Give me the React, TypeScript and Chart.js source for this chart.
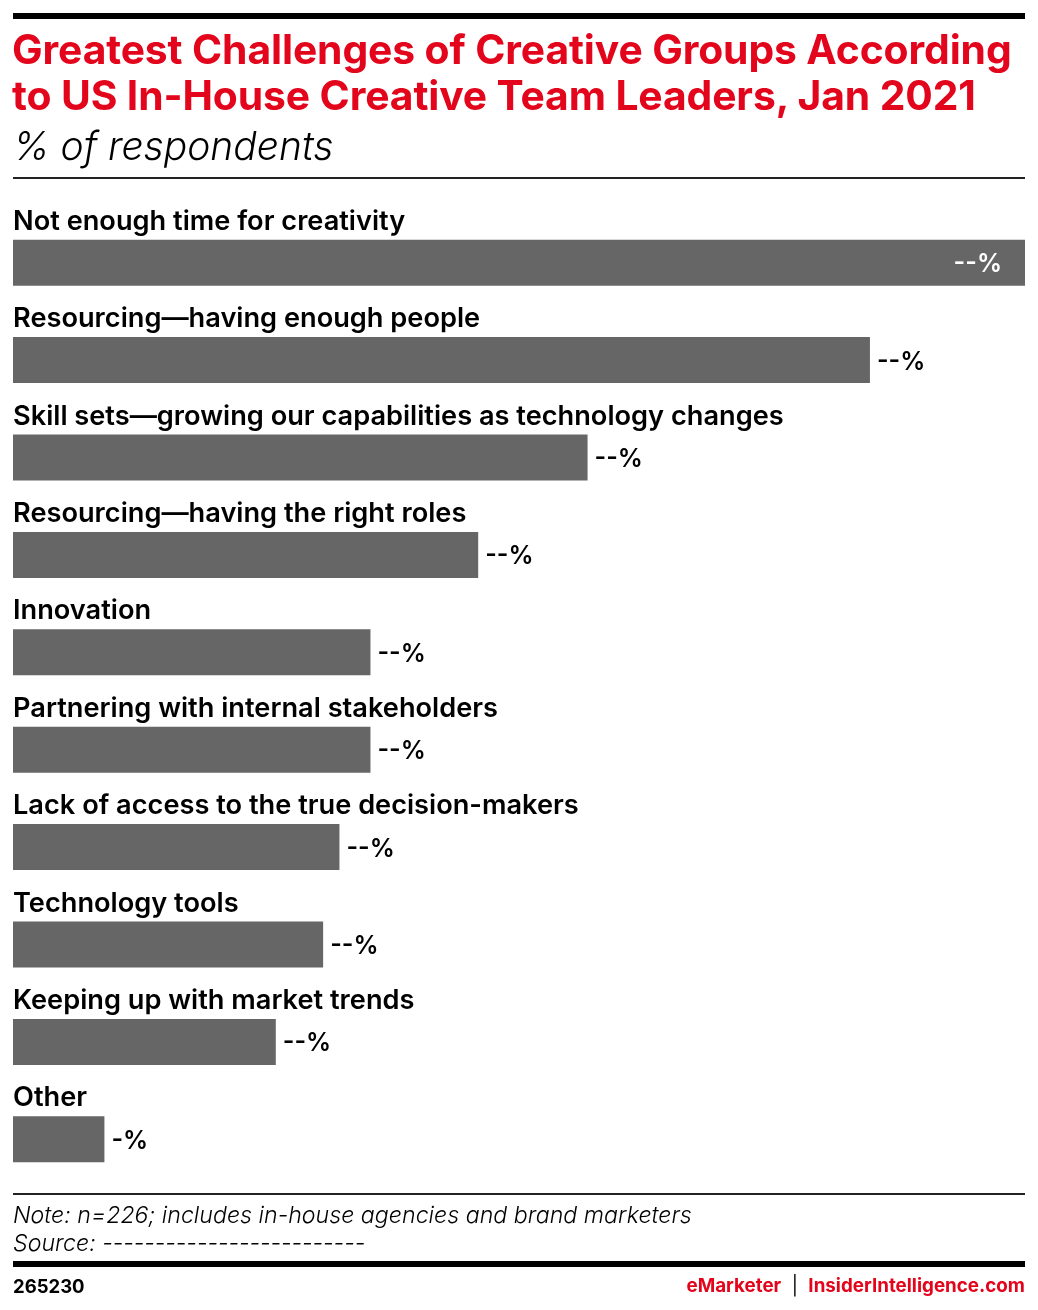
import React, { useEffect, useRef } from "react";
import { Chart, registerables } from "chart.js";

Chart.register(...registerables);

const categories = [
  "Not enough time for creativity",
  "Resourcing\u2014having enough people",
  "Skill sets\u2014growing our capabilities as technology changes",
  "Resourcing\u2014having the right roles",
  "Innovation",
  "Partnering with internal stakeholders",
  "Lack of access to the true decision-makers",
  "Technology tools",
  "Keeping up with market trends",
  "Other",
];

const values = [62, 52.5, 35.2, 28.5, 21.9, 21.9, 20, 19, 16.1, 5.6];

const valueLabels = ["--%", "--%", "--%", "--%", "--%", "--%", "--%", "--%", "--%", "-%"];

const FONT = "Inter, 'Noto Sans', sans-serif";
const RED = "#e3051b";
const BAR = "#666666";

const labelPlugin = {
  id: "barLabels",
  afterDatasetsDraw(chart: any) {
    const ctx = chart.ctx;
    const meta = chart.getDatasetMeta(0);
    const area = chart.chartArea;
    ctx.save();
    meta.data.forEach((bar: any, i: number) => {
      const top = bar.y - bar.height / 2;
      ctx.font = `600 27.2px ${FONT}`;
      ctx.fillStyle = "#000";
      ctx.textAlign = "left";
      ctx.textBaseline = "alphabetic";
      ctx.fillText(categories[i], area.left, top - 10);
      ctx.font = `600 25px ${FONT}`;
      const txt = valueLabels[i];
      const w = ctx.measureText(txt).width;
      ctx.textBaseline = "middle";
      if (bar.x + 8 + w > area.right) {
        ctx.fillStyle = "#fff";
        ctx.textAlign = "right";
        ctx.fillText(txt, bar.x - 23, bar.y + 2);
      } else {
        ctx.fillStyle = "#000";
        ctx.textAlign = "left";
        ctx.fillText(txt, bar.x + 7, bar.y + 2);
      }
    });
    ctx.restore();
  },
};

export default function App() {
  const ref = useRef<HTMLCanvasElement | null>(null);

  useEffect(() => {
    if (!ref.current) return;
    const chart = new Chart(ref.current, {
      type: "bar",
      data: {
        labels: categories,
        datasets: [
          {
            data: values,
            backgroundColor: BAR,
            borderWidth: 0,
            categoryPercentage: 1,
            barPercentage: 0.472,
          },
        ],
      },
      options: {
        indexAxis: "y",
        responsive: false,
        animation: false,
        layout: { padding: { left: 13, right: 13, top: 214, bottom: 122 } },
        plugins: {
          legend: { display: false },
          tooltip: { enabled: false },
          title: { display: false },
        },
        scales: {
          x: { display: false, min: 0, max: Math.max(...values) },
          y: { display: false },
        },
      },
      plugins: [labelPlugin],
    });
    return () => chart.destroy();
  }, []);

  const rule = (top: number, h: number, color = "#000") => (
    <div style={{ position: "absolute", left: 13, top, width: 1012, height: h, background: color }} />
  );

  return (
    <div
      style={{
        position: "absolute",
        left: 0,
        top: 0,
        width: 1038,
        height: 1310,
        background: "#fff",
        fontFamily: FONT,
        overflow: "hidden",
      }}
    >
      <canvas ref={ref} width={1038} height={1310} style={{ position: "absolute", left: 0, top: 0 }} />
      {rule(13, 6)}
      <div
        style={{
          position: "absolute",
          left: 12,
          top: 26,
          fontSize: 40.8,
          lineHeight: "46px",
          fontWeight: 700,
          color: RED,
          letterSpacing: -0.1,
          whiteSpace: "nowrap",
        }}
      >
        Greatest Challenges of Creative Groups According
        <br />
        to US In-House Creative Team Leaders, Jan 2021
      </div>
      <div
        style={{
          position: "absolute",
          left: 13,
          top: 123,
          fontSize: 39,
          lineHeight: "46px",
          fontWeight: 300,
          fontStyle: "italic",
          color: "#000",
          whiteSpace: "nowrap",
        }}
      >
        % of respondents
      </div>
      {rule(177, 2, "#222")}
      {rule(1193, 2, "#222")}
      <div
        style={{
          position: "absolute",
          left: 13,
          top: 1201,
          fontSize: 23.2,
          lineHeight: "28px",
          fontWeight: 300,
          fontStyle: "italic",
          color: "#000",
          whiteSpace: "nowrap",
        }}
      >
        Note: n=226; includes in-house agencies and brand marketers
        <br />
        Source: -------------------------
      </div>
      {rule(1261, 6)}
      <div
        style={{
          position: "absolute",
          left: 13,
          top: 1274,
          fontSize: 18.5,
          lineHeight: "24px",
          fontWeight: 700,
          color: "#000",
        }}
      >
        265230
      </div>
      <div
        style={{
          position: "absolute",
          right: 13,
          top: 1274,
          fontSize: 18.8,
          lineHeight: "24px",
          fontWeight: 700,
          color: RED,
          whiteSpace: "nowrap",
        }}
      >
        eMarketer <span style={{ color: "#000", fontWeight: 400, margin: "0 6px" }}>|</span> InsiderIntelligence.com
      </div>
    </div>
  );
}
